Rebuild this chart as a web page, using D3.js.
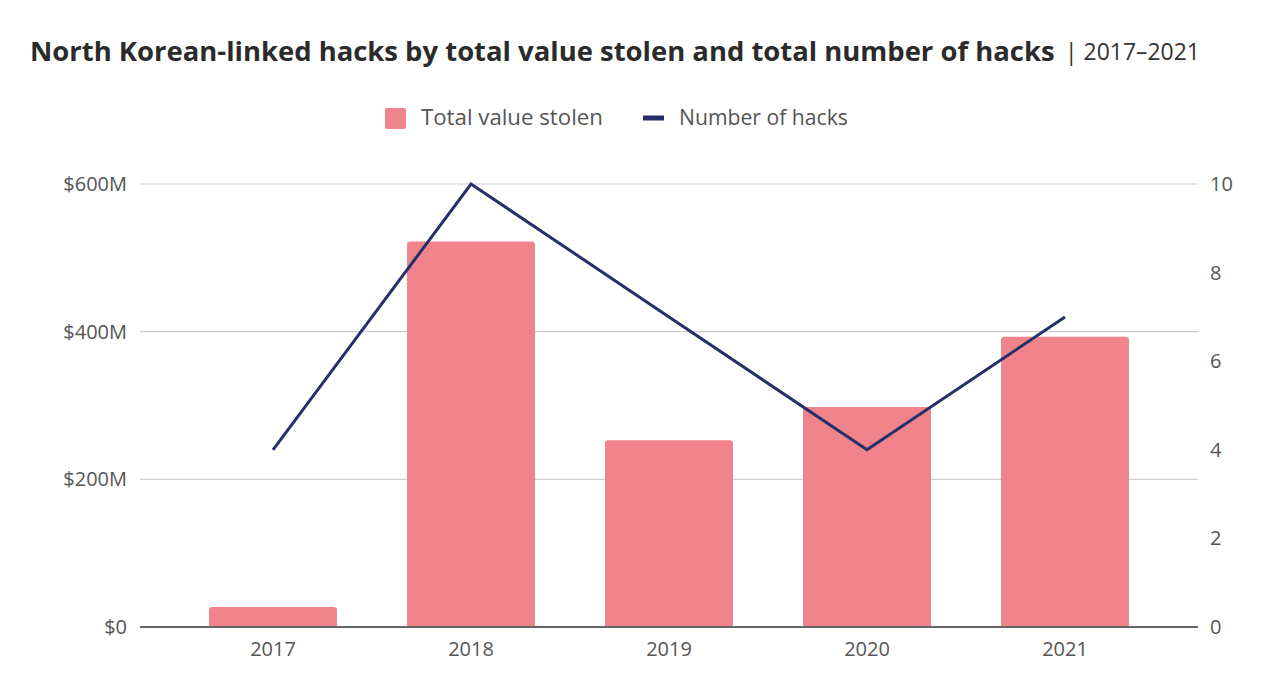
<!DOCTYPE html>
<html><head><meta charset="utf-8">
<script src="https://cdn.jsdelivr.net/npm/d3@7"></script>
<style>body{margin:0;background:#fff;} svg{display:block;font-family:"Open Sans",Lato,sans-serif;}</style>
</head><body>
<svg id="c" width="1280" height="697"></svg>
<script>
const years = ["2017","2018","2019","2020","2021"];
const valueStolen = [27, 522, 253, 298, 393]; // $M
const numHacks = [4, 10, 7, 4, 7];
const leftTicks = [0, 200, 400, 600];
const rightTicks = [0, 2, 4, 6, 8, 10];

(function(){
const FONT = "'Open Sans',Lato,sans-serif";
const svg = d3.select("#c");
const plotL = 140, plotR = 1198, plotTop = 184, plotBottom = 627;

const x = d3.scaleBand().domain(years).range([174, 1164]).paddingInner(0.354).paddingOuter(0.177);
const yL = d3.scaleLinear().domain([0, 600]).range([plotBottom, plotTop]);
const yR = d3.scaleLinear().domain([0, 10]).range([plotBottom, plotTop]);

function fit(sel, base, target) {
  sel.attr("font-size", base);
  const w = sel.node().getComputedTextLength();
  sel.attr("font-size", base * target / w);
}

// title
const t1 = svg.append("text").attr("x", 30).attr("y", 61).attr("fill", "#2b2b2b").attr("font-weight", 700)
  .text("North Korean-linked hacks by total value stolen and total number of hacks");
fit(t1, 24, 1025);
const t2 = svg.append("text").attr("x", 1065).attr("y", 60).attr("fill", "#333").attr("font-weight", 400)
  .text("| 2017–2021");
fit(t2, 20, 135);

// legend
const lg = svg.append("g").attr("fill", "#555");
lg.append("rect").attr("x", 385).attr("y", 108).attr("width", 21).attr("height", 21).attr("rx", 2).attr("fill", "#f0848a");
fit(lg.append("text").attr("x", 421).attr("y", 125).text("Total value stolen"), 19, 182);
lg.append("rect").attr("x", 643).attr("y", 115.5).attr("width", 21).attr("height", 5).attr("fill", "#252f6b");
fit(lg.append("text").attr("x", 679).attr("y", 125).text("Number of hacks"), 19, 169);

// gridlines
svg.append("g").selectAll("line").data(leftTicks.filter(d => d > 0)).join("line")
  .attr("x1", plotL).attr("x2", plotR).attr("y1", d => yL(d)).attr("y2", d => yL(d))
  .attr("stroke", "#cfcfcf").attr("stroke-width", 1.2);

// left axis
const la = svg.append("g").attr("transform", `translate(${plotL - 13},0)`)
  .call(d3.axisLeft(yL).tickValues(leftTicks).tickSize(0).tickPadding(0).tickFormat(d => "$" + d + (d ? "M" : "")));
la.select(".domain").remove();
la.selectAll("text").attr("font-size", 20).attr("fill", "#555").attr("font-family", FONT);

// right axis
const ra = svg.append("g").attr("transform", `translate(${plotR + 12},0)`)
  .call(d3.axisRight(yR).tickValues(rightTicks).tickSize(0).tickPadding(0));
ra.select(".domain").remove();
ra.selectAll("text").attr("font-size", 20).attr("fill", "#555").attr("font-family", FONT);

// bars
svg.append("g").selectAll("path").data(years).join("path")
  .attr("fill", "#f0848a")
  .attr("d", (d, i) => {
    const x0 = x(d), bw = x.bandwidth(), y0 = yL(valueStolen[i]), r = 3;
    return `M${x0},${plotBottom}V${y0 + r}Q${x0},${y0} ${x0 + r},${y0}H${x0 + bw - r}Q${x0 + bw},${y0} ${x0 + bw},${y0 + r}V${plotBottom}Z`;
  });

// baseline
svg.append("line").attr("x1", plotL).attr("x2", plotR).attr("y1", plotBottom).attr("y2", plotBottom)
  .attr("stroke", "#666").attr("stroke-width", 1.8);

// x axis labels
const xa = svg.append("g").attr("transform", `translate(0,${plotBottom + 14})`)
  .call(d3.axisBottom(x).tickSize(0).tickPadding(0));
xa.select(".domain").remove();
xa.selectAll("text").attr("font-size", 20).attr("fill", "#555").attr("dy", "0.75em").attr("font-family", FONT);

// line
const line = d3.line().x((d, i) => x(years[i]) + x.bandwidth() / 2).y(d => yR(d));
svg.append("path").datum(numHacks).attr("d", line).attr("fill", "none")
  .attr("stroke", "#252f6b").attr("stroke-width", 3).attr("stroke-linejoin", "miter");
})();
</script>
</body></html>
